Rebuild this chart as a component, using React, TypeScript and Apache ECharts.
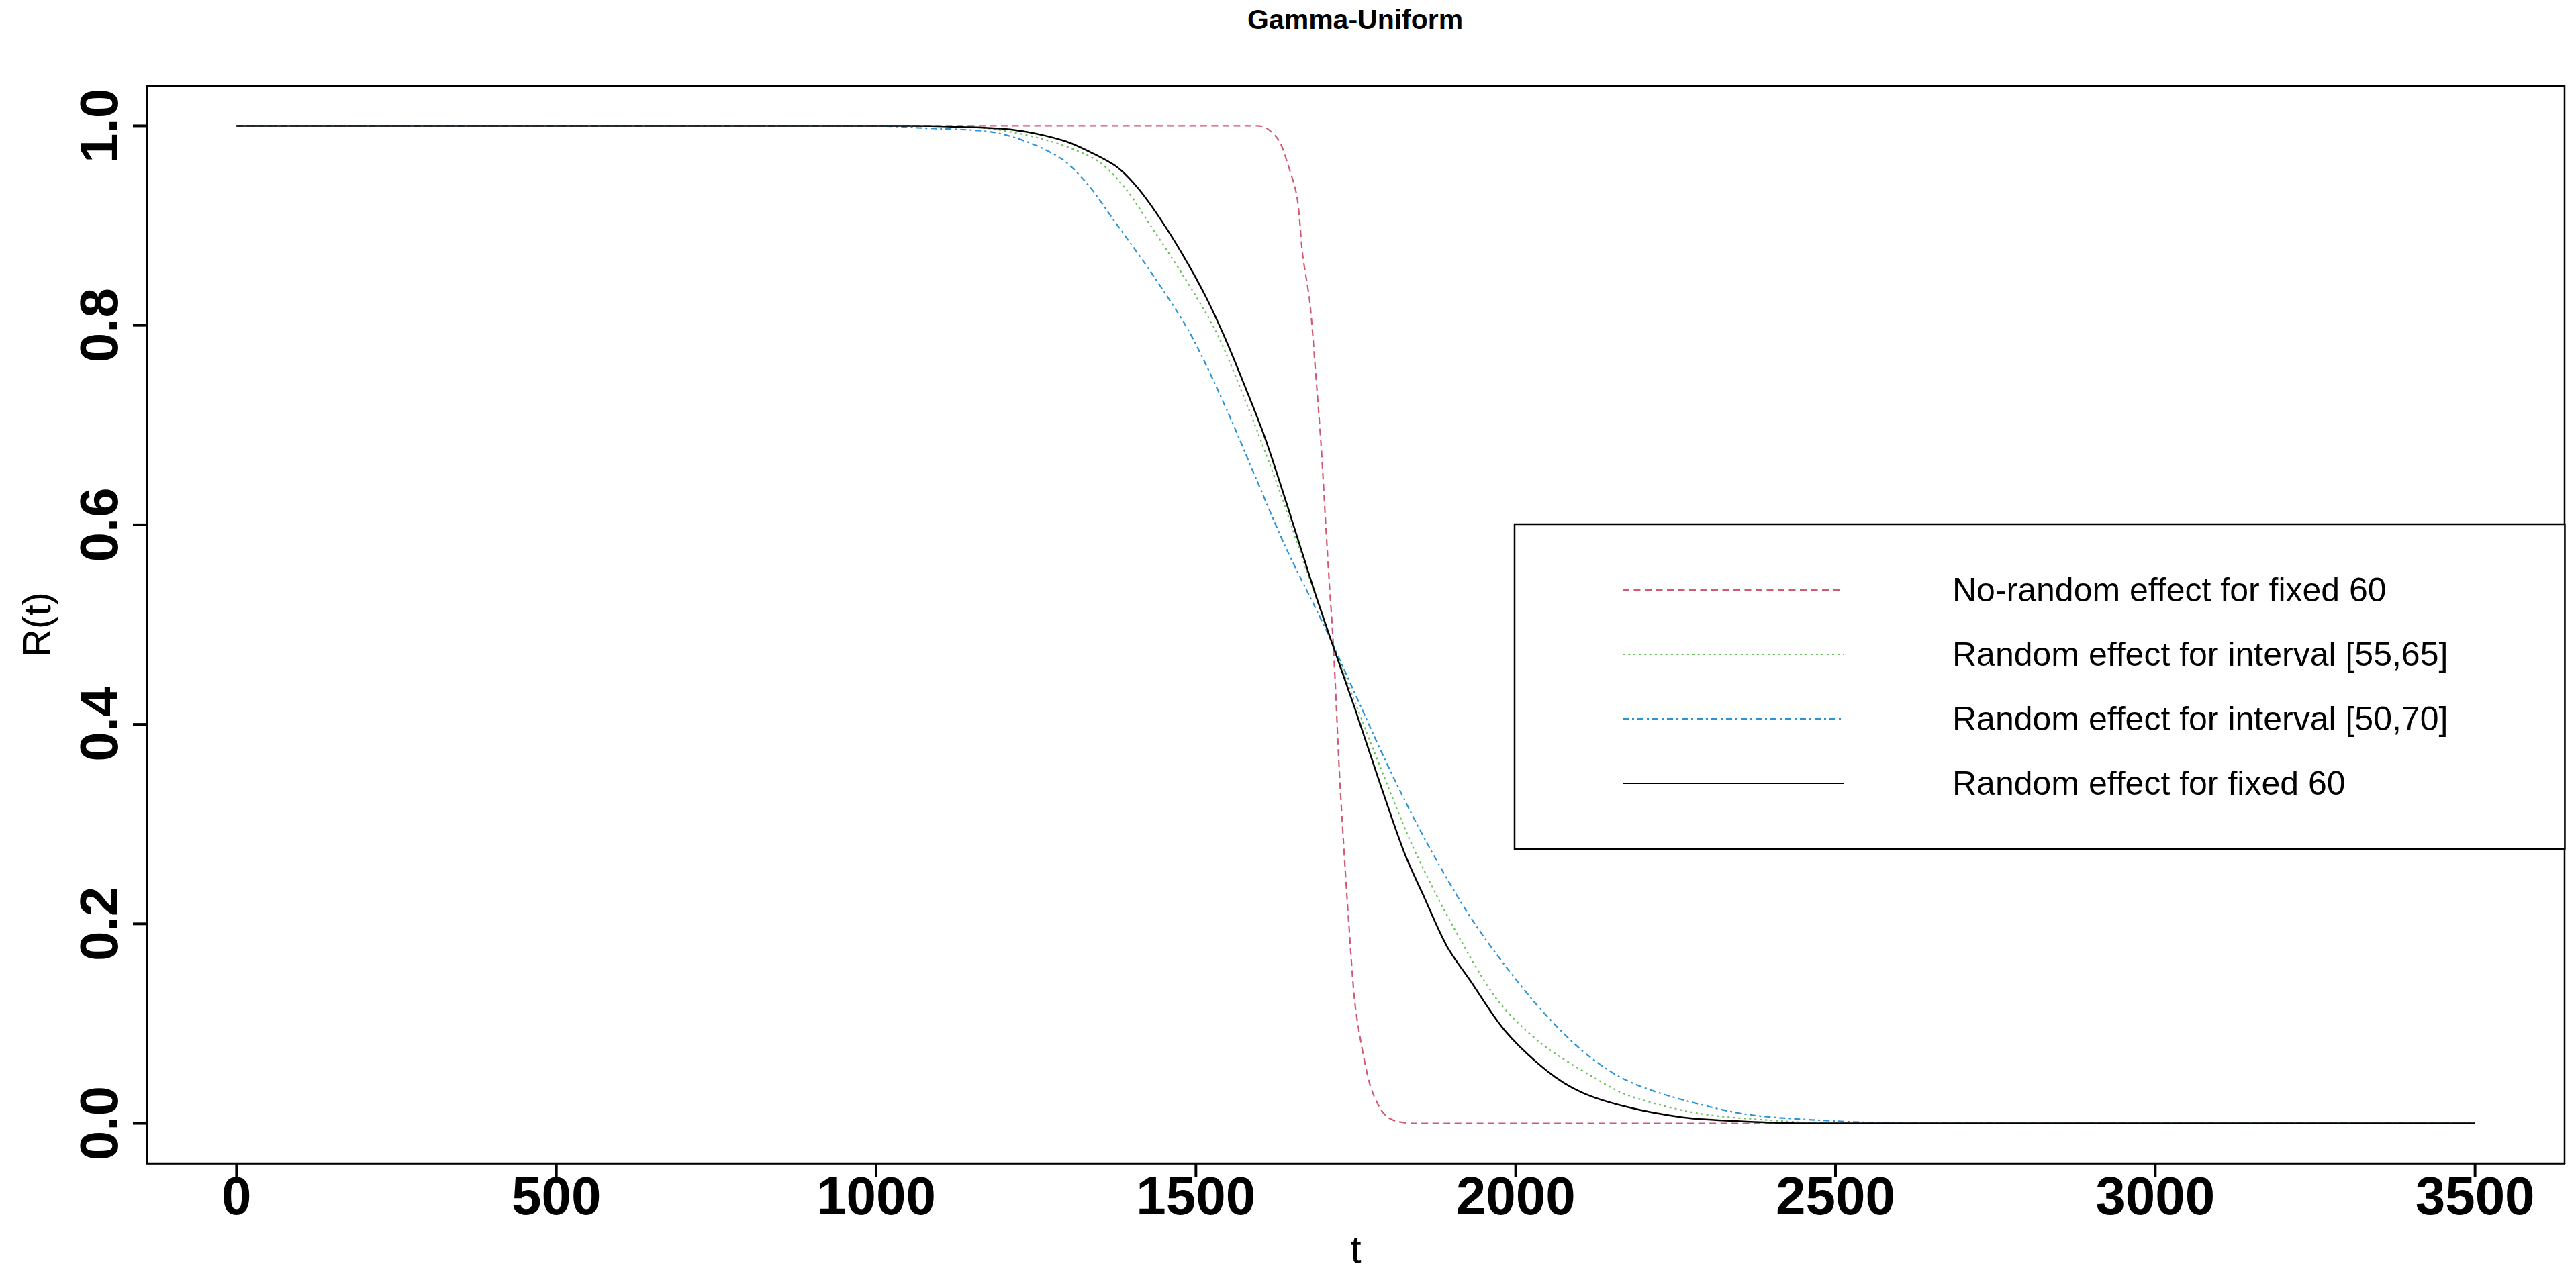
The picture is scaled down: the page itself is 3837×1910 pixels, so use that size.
import React, { useEffect, useRef } from "react";
import * as echarts from "echarts";

// ---- data ----
const SERIES_NAMES = [
  "No-random effect for fixed 60",
  "Random effect for interval [55,65]",
  "Random effect for interval [50,70]",
  "Random effect for fixed 60",
];

const T_PINK = [0, 1595, 1610, 1630, 1643, 1658, 1667, 1678, 1687, 1696, 1703, 1709, 1713, 1718, 1724, 1731, 1739, 1748, 1757, 1772, 1787, 1800, 1814, 1840, 3500];
const R_PINK = [1, 1, 0.998, 0.985, 0.963, 0.929, 0.87, 0.824, 0.754, 0.677, 0.6, 0.537, 0.5, 0.44, 0.356, 0.279, 0.201, 0.124, 0.085, 0.039, 0.016, 0.006, 0.002, 0, 0];

const T_GREEN = [0, 1080, 1180, 1270, 1346, 1390, 1426, 1480, 1532, 1580, 1628, 1670, 1712, 1750, 1789, 1838, 1899, 1971, 2040, 2122, 2176, 2285, 2400, 2500, 3500];
const R_GREEN = [1, 1, 0.997, 0.985, 0.965, 0.937, 0.903, 0.85, 0.793, 0.72, 0.639, 0.56, 0.483, 0.42, 0.356, 0.279, 0.201, 0.124, 0.08, 0.046, 0.028, 0.01, 0.003, 0, 0];

const T_BLUE = [0, 1000, 1065, 1179, 1240, 1294, 1335, 1372, 1430, 1490, 1545, 1595, 1640, 1692, 1712, 1802, 1863, 1935, 2026, 2100, 2164, 2237, 2351, 2450, 2620, 3500];
const R_BLUE = [1, 1, 0.998, 0.994, 0.983, 0.965, 0.938, 0.905, 0.853, 0.793, 0.72, 0.645, 0.578, 0.51, 0.483, 0.356, 0.279, 0.201, 0.124, 0.075, 0.046, 0.028, 0.01, 0.004, 0, 0];

const T_BLACK = [0, 1050, 1125, 1215, 1294, 1340, 1378, 1410, 1444, 1480, 1516, 1547, 1574, 1607, 1643, 1682, 1712, 1748, 1784, 1826, 1856, 1892, 1929, 1983, 2050, 2103, 2170, 2261, 2351, 2450, 3500];
const R_BLACK = [1, 1, 0.999, 0.996, 0.985, 0.972, 0.958, 0.937, 0.907, 0.87, 0.828, 0.785, 0.743, 0.689, 0.619, 0.54, 0.483, 0.417, 0.348, 0.271, 0.228, 0.178, 0.143, 0.093, 0.052, 0.031, 0.017, 0.006, 0.002, 0, 0];

const X_TICKS = [0, 500, 1000, 1500, 2000, 2500, 3000, 3500];
const Y_TICKS = [0, 0.2, 0.4, 0.6, 0.8, 1.0];

// axis ranges (R's 4% extension of the data range)
const X_MIN = -140;
const X_MAX = 3640;
const Y_MIN = -0.04;
const Y_MAX = 1.04;

const COLORS = ["#D05A72", "#6CC05C", "#2A93D8", "#000000"];

const zip = (t: number[], r: number[]) => t.map((v, i) => [v, r[i]]);

export default function App() {
  const ref = useRef<HTMLDivElement>(null);

  useEffect(() => {
    if (!ref.current) return;
    const chart = echarts.init(ref.current, undefined, { renderer: "svg" });
    const font = "Liberation Sans, Arial, sans-serif";

    const mk = (name: string, data: number[][], color: string, type: any, width: number) => ({
      name,
      type: "line",
      data,
      symbol: "none",
      showSymbol: false,
      smooth: 0.3,
      lineStyle: { color, width, type },
      itemStyle: { color },
      emphasis: { disabled: true },
    });

    chart.setOption({
      animation: false,
      backgroundColor: "#ffffff",
      title: {
        text: "Gamma-Uniform",
        left: 1858,
        top: 8,
        padding: 0,
        textStyle: { fontFamily: font, fontSize: 41, fontWeight: "bold", color: "#000" },
      },
      grid: {
        left: 219,
        right: 17,
        top: 128,
        bottom: 177,
        show: true,
        borderColor: "#000",
        borderWidth: 2.5,
        backgroundColor: "transparent",
        containLabel: false,
      },
      legend: {
        orient: "vertical",
        left: 2256,
        top: 781,
        padding: [73, 174, 73, 160],
        itemWidth: 330,
        itemHeight: 20,
        itemGap: 46,
        borderColor: "#000",
        borderWidth: 2.5,
        backgroundColor: "#fff",
        borderRadius: 0,
        selectedMode: false,
        data: SERIES_NAMES,
        itemStyle: { opacity: 0, borderWidth: 0 },
        textStyle: { fontFamily: font, fontSize: 50, color: "#000", padding: [0, 0, 0, 156] },
      },
      xAxis: {
        type: "value",
        min: X_MIN,
        max: X_MAX,
        name: "t",
        nameLocation: "middle",
        nameGap: 98,
        nameTextStyle: { fontFamily: font, fontSize: 58, color: "#000" },
        axisLine: { show: true, onZero: false, lineStyle: { color: "#000", width: 2.5 } },
        splitLine: { show: false },
        axisTick: { show: false },
        axisLabel: {
          customValues: X_TICKS,
          margin: 8,
          fontFamily: font,
          fontSize: 80,
          fontWeight: "bold",
          color: "#000",
          formatter: (v: number) => String(v),
        },
      },
      yAxis: {
        type: "value",
        min: Y_MIN,
        max: Y_MAX,
        name: "R(t)",
        nameLocation: "middle",
        nameGap: 136,
        nameRotate: 90,
        nameTextStyle: { fontFamily: font, fontSize: 58, color: "#000" },
        axisLine: { show: true, onZero: false, lineStyle: { color: "#000", width: 2.5 } },
        splitLine: { show: false },
        axisTick: { show: false },
        axisLabel: {
          customValues: Y_TICKS,
          rotate: 90,
          margin: 32,
          fontFamily: font,
          fontSize: 80,
          fontWeight: "bold",
          color: "#000",
          formatter: (v: number) => v.toFixed(1),
        },
      },
      series: [
        mk(SERIES_NAMES[0], zip(T_PINK, R_PINK), COLORS[0], [10, 6.5], 2.2),
        mk(SERIES_NAMES[1], zip(T_GREEN, R_GREEN), COLORS[1], [3, 5], 2.2),
        mk(SERIES_NAMES[2], zip(T_BLUE, R_BLUE), COLORS[2], [9, 5, 3, 5], 2.2),
        mk(SERIES_NAMES[3], zip(T_BLACK, R_BLACK), COLORS[3], "solid", 2.5),
      ],
    });

    // tick marks as filled rects, placed through the chart's own scales
    const yBottom = Number(chart.convertToPixel({ yAxisIndex: 0 }, Y_MIN));
    const xLeft = Number(chart.convertToPixel({ xAxisIndex: 0 }, X_MIN));
    const ticks: any[] = [];
    X_TICKS.forEach((v) => {
      const px = Number(chart.convertToPixel({ xAxisIndex: 0 }, v));
      ticks.push({
        type: "rect",
        silent: true,
        z: 100,
        shape: { x: px - 2, y: yBottom, width: 4, height: 20 },
        style: { fill: "#000" },
      });
    });
    Y_TICKS.forEach((v) => {
      const py = Number(chart.convertToPixel({ yAxisIndex: 0 }, v));
      ticks.push({
        type: "rect",
        silent: true,
        z: 100,
        shape: { x: xLeft - 21, y: py - 2, width: 21, height: 4 },
        style: { fill: "#000" },
      });
    });
    chart.setOption({ graphic: { elements: ticks } });

    return () => chart.dispose();
  }, []);

  return (
    <div
      ref={ref}
      style={{ position: "absolute", left: 0, top: 0, width: 3837, height: 1910, background: "#fff" }}
    />
  );
}
